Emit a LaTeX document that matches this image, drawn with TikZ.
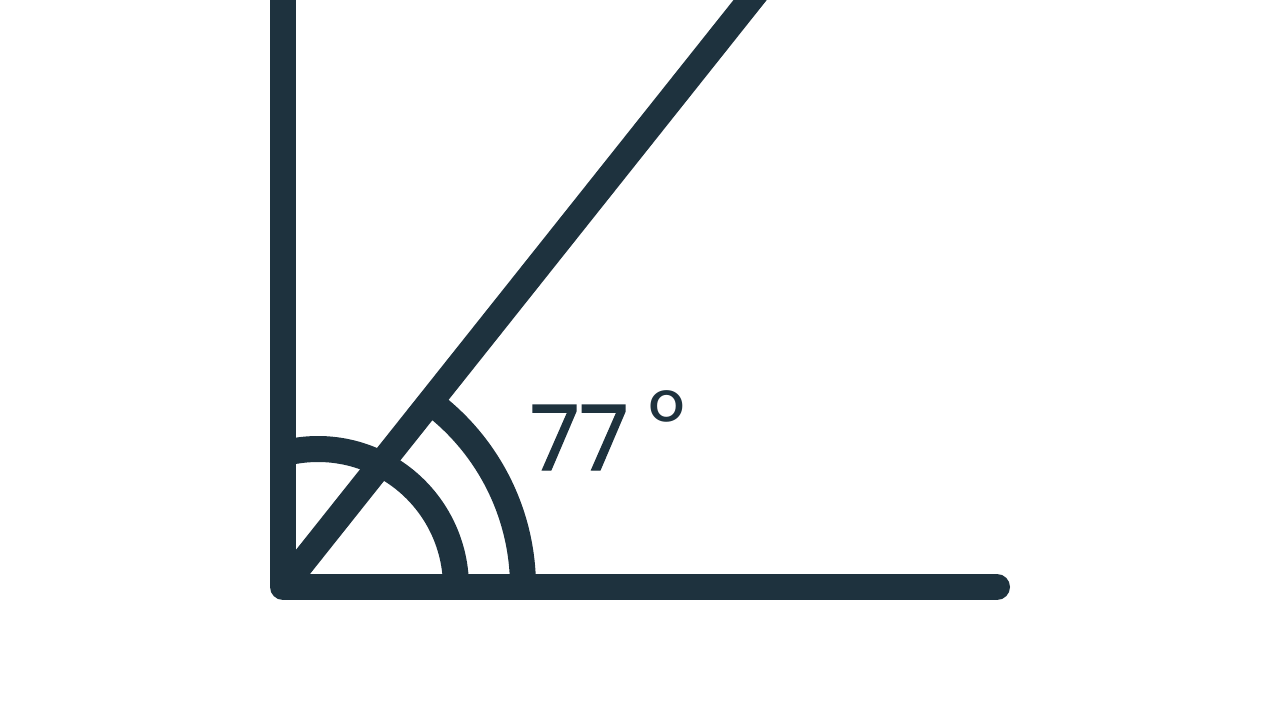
\documentclass[tikz,border=0pt]{standalone}
\usepackage{fontspec}
\setmainfont{Poppins}
\newfontfamily\digitsfont{Poppins}[FakeBold=1.6]
\definecolor{ink}{HTML}{1E323E}
\begin{document}
\begin{tikzpicture}[x=1pt,y=-1pt,
  stroke/.style={draw=ink,line width=26pt,line cap=round,line join=round},
  arcstroke/.style={draw=ink,line width=26pt,line cap=butt}]
\useasboundingbox (0,0) rectangle (1280,720);
\clip (0,0) rectangle (1280,720);
\fill[white] (0,0) rectangle (1280,720);
\coordinate (V) at (283,587);
\coordinate (T) at (283,-30);
\coordinate (E) at (997,587);
\coordinate (D) at (774,-30);
% angle arcs
\draw[arcstroke] (456,587) arc[start angle=0,end angle=-105,radius=138];
\draw[arcstroke] (523,587) arc[start angle=0,end angle=-51.5,radius=231];
% sides
\draw[stroke] (T) -- (V) -- (E);
\draw[stroke,line cap=butt] (V) -- (D);
\node[anchor=base west,inner sep=0pt,text=ink,font=\fontsize{90}{90}\selectfont] (lbl) at (530,470) {{\digitsfont 77}\hspace{20pt}\raisebox{17pt}{°}};
\end{tikzpicture}
\end{document}
